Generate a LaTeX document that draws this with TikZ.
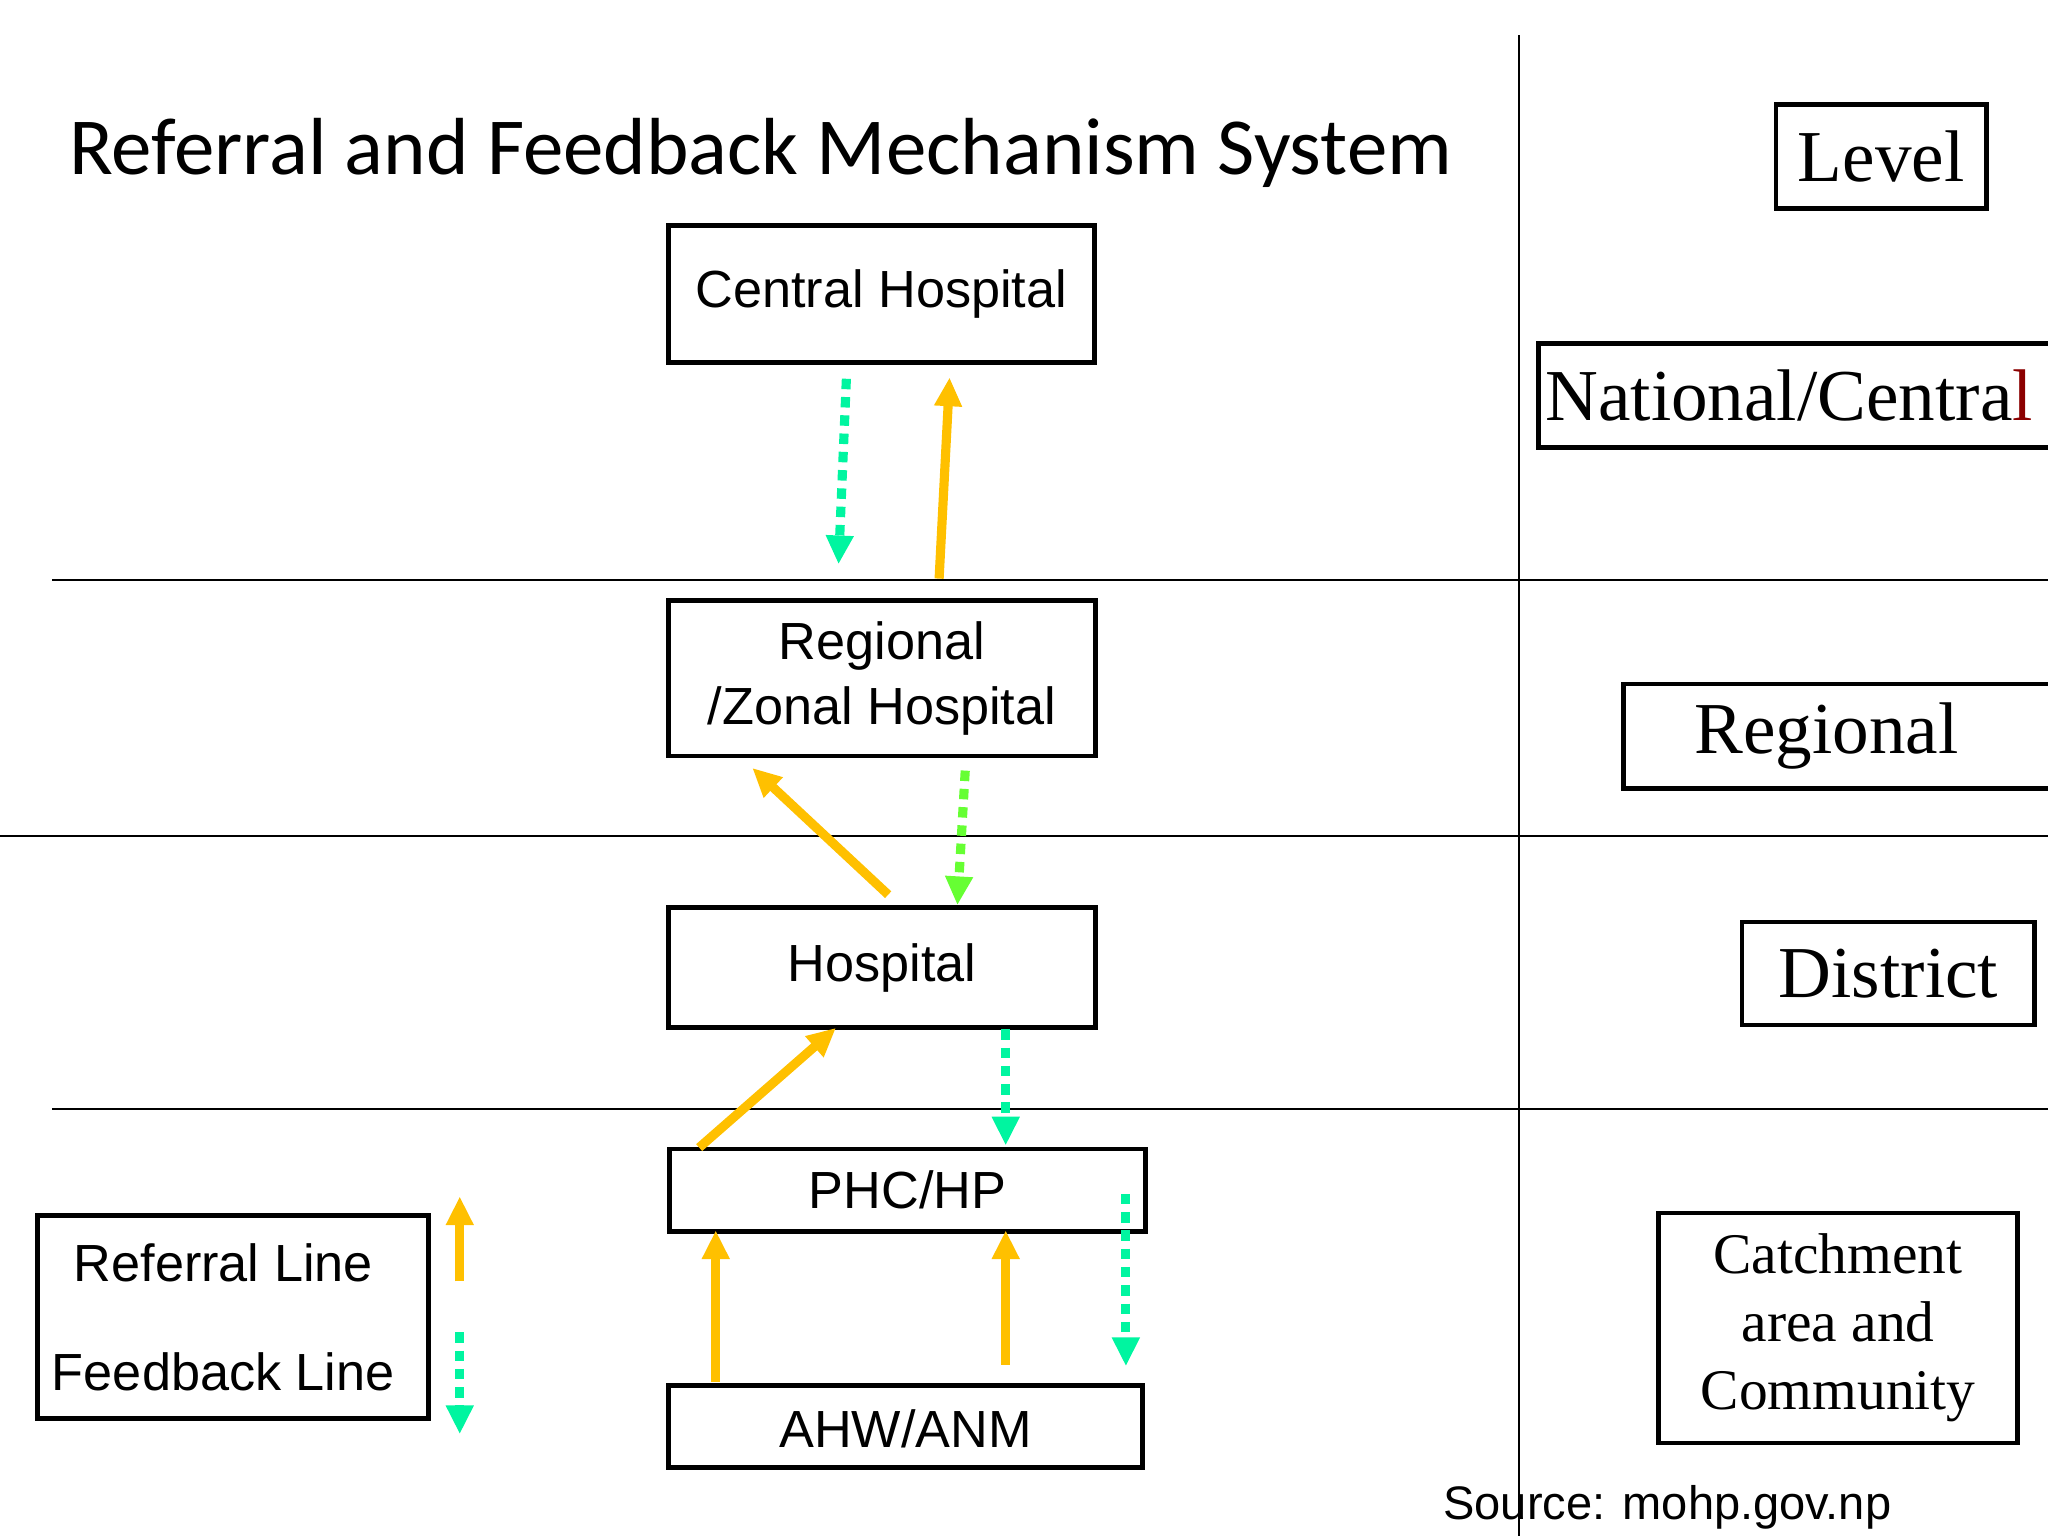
\documentclass[tikz,border=0pt]{standalone}
\usepackage{fontspec}
\setmainfont{Liberation Sans}
\newfontfamily\serif{Liberation Serif}
\newfontfamily\titlef{Carlito}
\usetikzlibrary{arrows.meta}
\definecolor{ref}{HTML}{FFC000}
\definecolor{fb}{HTML}{00F5A0}
\definecolor{fbl}{HTML}{66FF33}
\definecolor{dred}{HTML}{8B0000}
\begin{document}
\begin{tikzpicture}[x=0.5pt,y=-0.5pt,
  box/.style={draw,line width=1.8pt,inner sep=0pt,anchor=north west},
  sbox/.style={box,font=\fontsize{20}{24}\selectfont},
  rbox/.style={box,font=\serif\fontsize{28}{32}\selectfont},
  refl/.style={ref,line width=3.5pt,-{Triangle[length=11pt,width=10pt]}},
  fbline/.style={fb,line width=3.5pt,dash pattern=on 4pt off 3pt,-{Triangle[length=11pt,width=10pt]}},
  sep/.style={line width=0.6pt}]
\useasboundingbox (0,0) rectangle (1568,1176);
\node[anchor=west,font=\titlef\fontsize{31}{36}\selectfont] (title) at (46,117) {Referral and Feedback Mechanism System};
\draw[sep] (1163,27) -- (1163,1176);
\draw[sep] (40,444) -- (1568,444);
\draw[sep] (0,640) -- (1568,640);
\draw[sep] (40,849) -- (1568,849);
% left boxes
\node[sbox,minimum width=163pt,minimum height=52.5pt] (ch) at (510,171) {};
\node at (ch.center) {\fontsize{20}{24}\selectfont Central Hospital};
\node[sbox,minimum width=163.5pt,minimum height=59.5pt] (rz) at (510,458) {};
\node[align=center,font=\fontsize{20}{25}\selectfont] at (rz.center) {Regional\\/Zonal Hospital};
\node[sbox,minimum width=163.5pt,minimum height=46pt] (h) at (510,693) {};
\node[font=\fontsize{20}{24}\selectfont] at (h.center) {Hospital};
\node[sbox,minimum width=182pt,minimum height=31.5pt] (phc) at (511,878) {};
\node[font=\fontsize{20}{24}\selectfont] at (phc.center) {PHC/HP};
\node[sbox,minimum width=181.5pt,minimum height=31.5pt] (ahw) at (510,1059) {};
\node[font=\fontsize{20}{24}\selectfont] at ([yshift=-1pt]ahw.center) {AHW/ANM};
\node[sbox,minimum width=149.5pt,minimum height=77.5pt] (leg) at (27,929) {};
\node[font=\fontsize{20}{24}\selectfont] (l1) at (171,967) {Referral Line};
\node[font=\fontsize{20}{24}\selectfont] (l2) at (171,1050) {Feedback Line};
% right boxes
\node[rbox,minimum width=80.5pt,minimum height=40pt] (lv) at (1358,78) {};
\node[font=\serif\fontsize{28}{32}\selectfont] at (lv.center) {Level};
\node[rbox,minimum width=196pt,minimum height=40pt] (nc) at (1176,261) {};
\node[font=\serif\fontsize{28}{32}\selectfont] at ([xshift=-2pt]nc.center) {National/Centra\textcolor{dred}{l}};
\node[rbox,minimum width=163.5pt,minimum height=40pt] (rg) at (1241,522) {};
\node[font=\serif\fontsize{28}{32}\selectfont] at ([xshift=-4pt]rg.center) {Regional};
\node[rbox,minimum width=112pt,minimum height=39.5pt] (ds) at (1332,704) {};
\node[font=\serif\fontsize{28}{32}\selectfont] at (ds.center) {District};
\node[rbox,minimum width=137.5pt,minimum height=88pt] (cm) at (1268,927) {};
\node[align=center,font=\serif\fontsize{22}{26}\selectfont] at (cm.center) {Catchment\\area and\\Community};
\node[anchor=west,font=\fontsize{18}{22}\selectfont] (src) at (1098,1154) {Source: mohp.gov.np};
% arrows
\coordinate (a1s) at (648,290); \coordinate (a1e) at (642,432);
\draw[fbline] (a1s) -- (a1e);
\coordinate (a2s) at (719,443); \coordinate (a2e) at (727,289);
\draw[refl] (a2s) -- (a2e);
\coordinate (a3s) at (680,685); \coordinate (a3e) at (576,588);
\draw[refl] (a3s) -- (a3e);
\coordinate (a4s) at (739,590); \coordinate (a4e) at (733,693);
\draw[fbline,fbl] (a4s) -- (a4e);
\draw[refl] ([xshift=-70pt]h.south) ++(0,90) coordinate (a5s) -- (640,787);
\coordinate (a6s) at (770,788); \coordinate (a6e) at (770,877);
\draw[fbline] (a6s) -- (a6e);
\coordinate (a7s) at (548,1058); \coordinate (a7e) at (548,942);
\draw[refl] (a7s) -- (a7e);
\coordinate (a8s) at (770,1045); \coordinate (a8e) at (770,942);
\draw[refl] (a8s) -- (a8e);
\coordinate (a9s) at (862,914); \coordinate (a9e) at (862,1046);
\draw[fbline] (a9s) -- (a9e);
\coordinate (b1s) at (352,981); \coordinate (b1e) at (352,916);
\draw[refl] (b1s) -- (b1e);
\coordinate (b2s) at (352,1020); \coordinate (b2e) at (352,1098);
\draw[fbline] (b2s) -- (b2e);
\end{tikzpicture}
\end{document}
